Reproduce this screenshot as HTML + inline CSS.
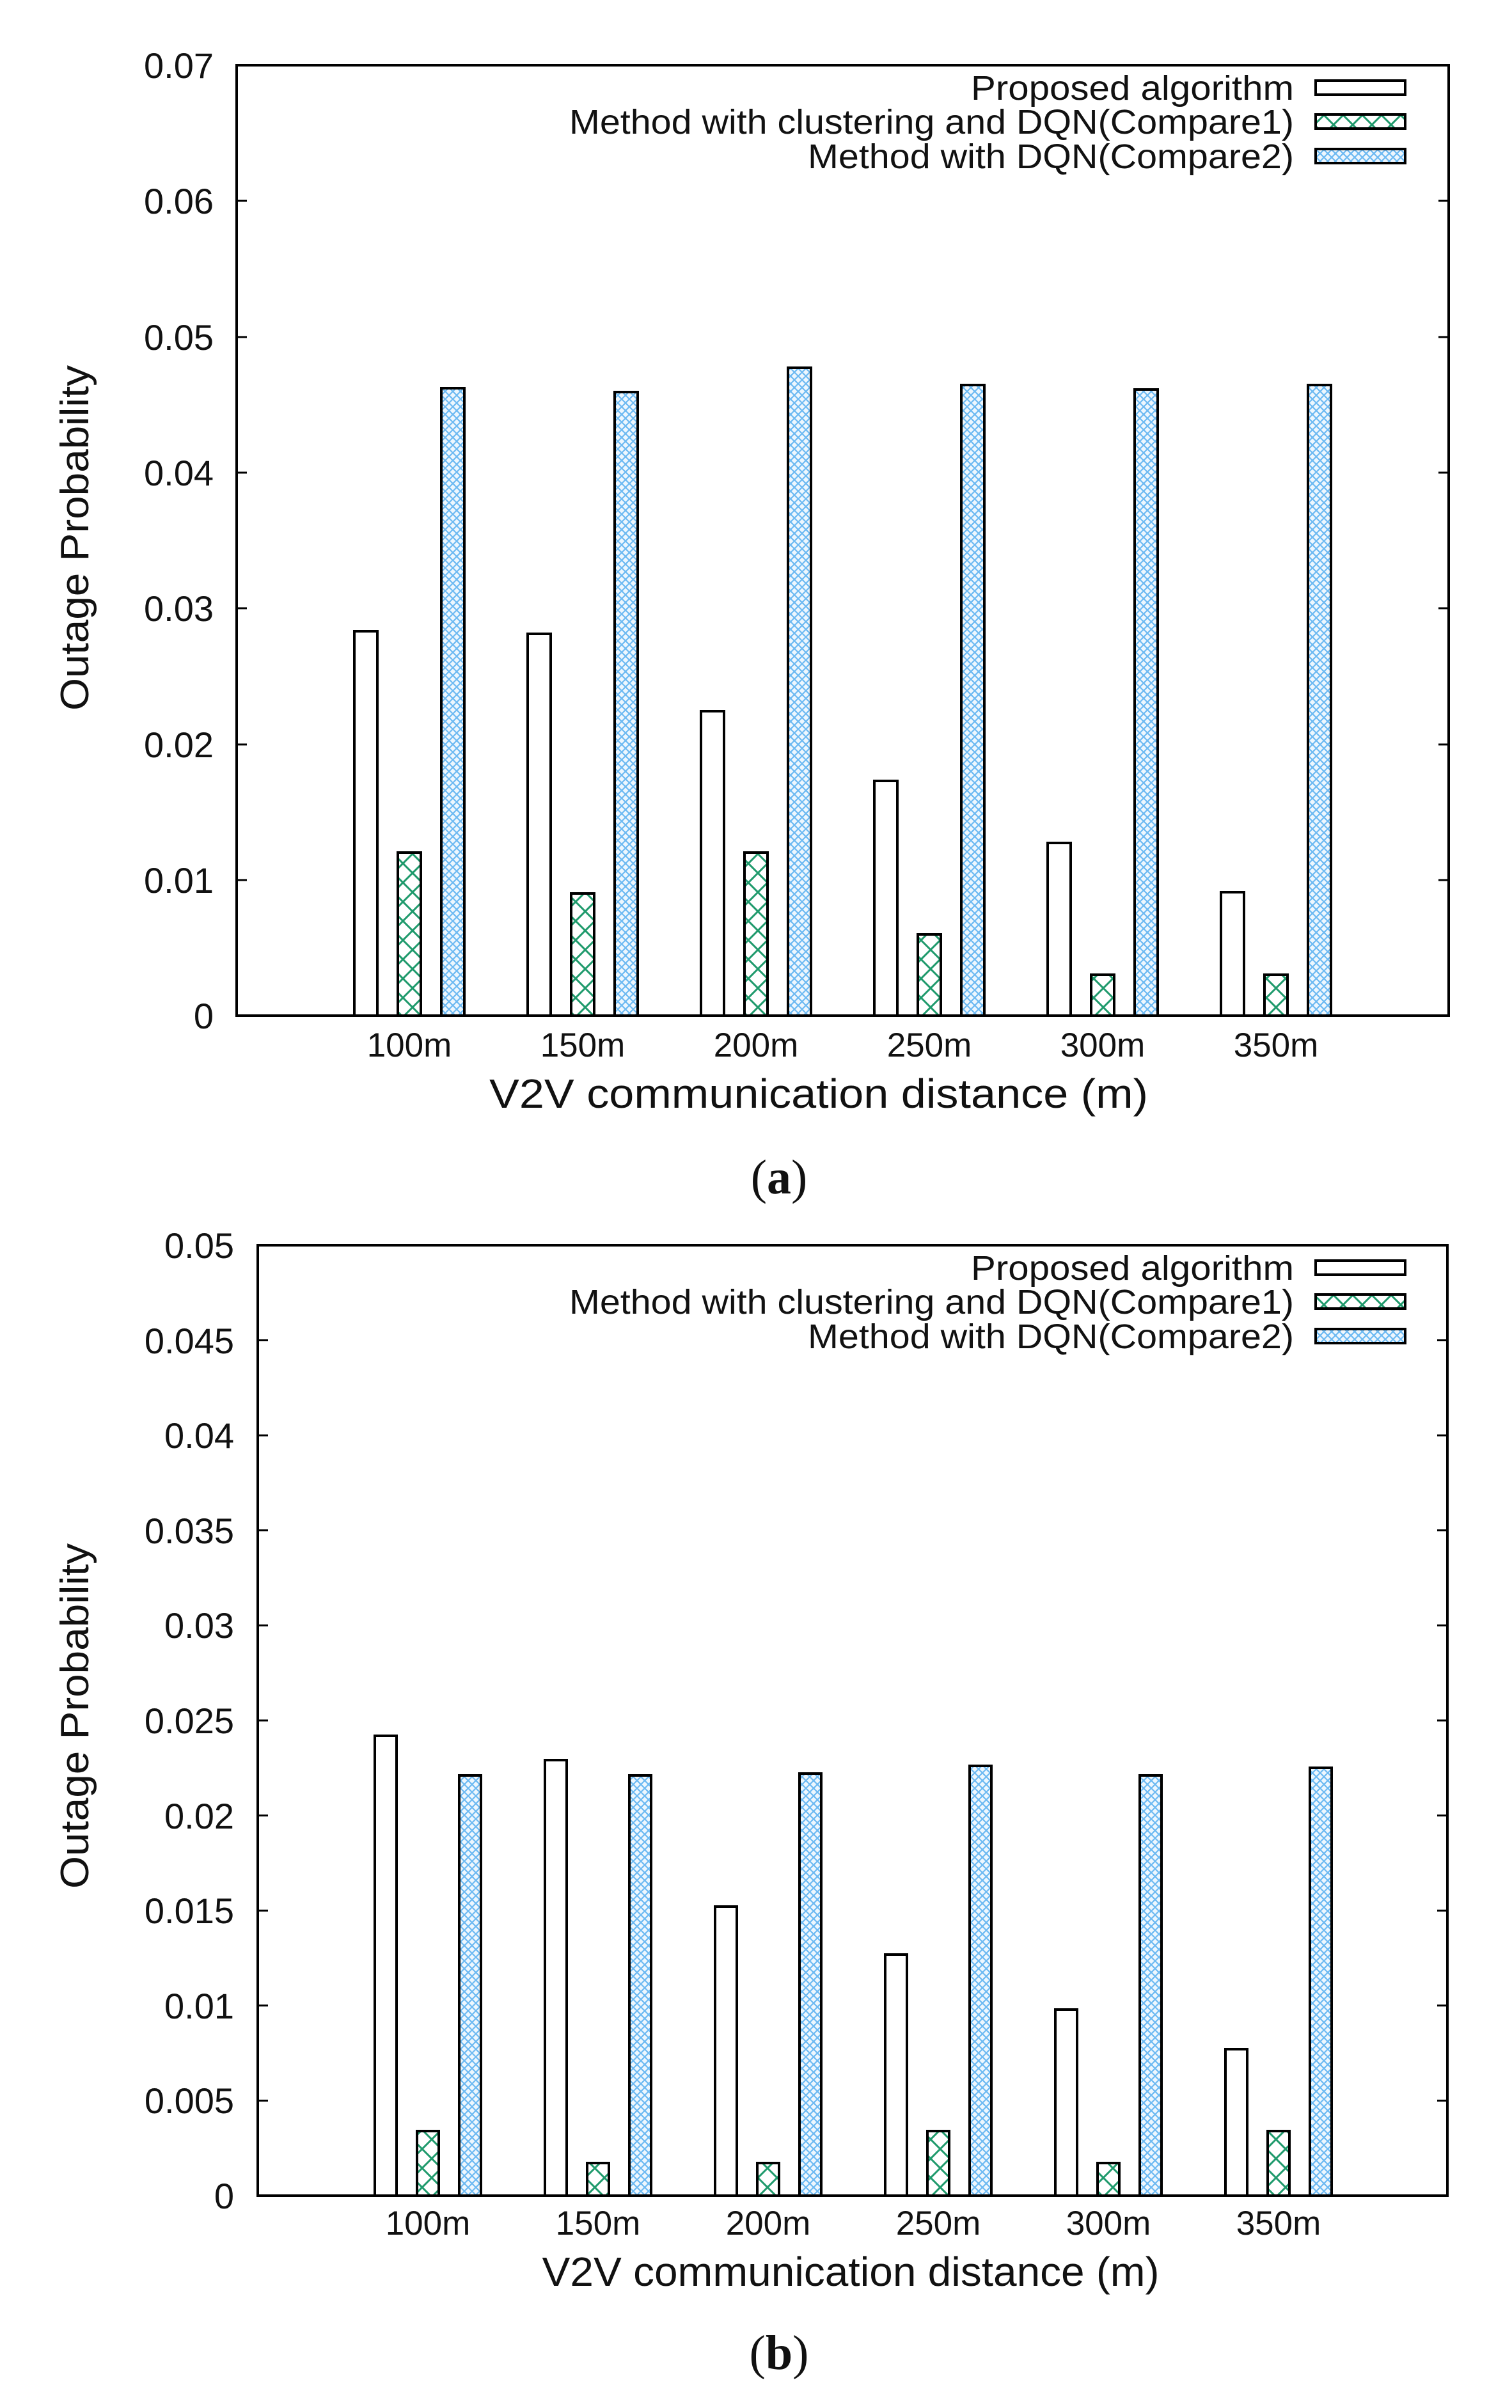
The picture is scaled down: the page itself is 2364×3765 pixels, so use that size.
<!DOCTYPE html>
<html><head><meta charset="utf-8"><style>
html,body{margin:0;padding:0;background:#fff;}
svg{display:block;}
text{font-family:"Liberation Sans",Arial,sans-serif;fill:#111;}
</style></head><body>
<svg width="2364" height="3765" viewBox="0 0 2364 3765" xmlns="http://www.w3.org/2000/svg">
<defs>
<pattern id="gh" width="30" height="30" patternUnits="userSpaceOnUse">
<rect width="30" height="30" fill="#fff"/>
<path d="M0,0 L30,30 M30,0 L0,30" stroke="#1f9a6c" stroke-width="3"/>
</pattern>
<pattern id="bh" width="12" height="12" patternUnits="userSpaceOnUse">
<rect width="12" height="12" fill="#eef7fe"/>
<path d="M0,0 L12,12 M12,0 L0,12" stroke="#6cb9f2" stroke-width="2.2"/>
</pattern>
</defs>

<!-- ===== Chart A ===== -->
<g id="A">
<rect x="370" y="102" width="1895" height="1486" fill="none" stroke="#000" stroke-width="4"/>
<g stroke="#000" stroke-width="3">
<path d="M370,1376h16M2265,1376h-16M370,1164h16M2265,1164h-16M370,951h16M2265,951h-16M370,739h16M2265,739h-16M370,527h16M2265,527h-16M370,314h16M2265,314h-16"/>
</g>
<g font-size="56" text-anchor="end">
<text x="334" y="1608">0</text>
<text x="334" y="1396">0.01</text>
<text x="334" y="1184">0.02</text>
<text x="334" y="971">0.03</text>
<text x="334" y="759">0.04</text>
<text x="334" y="547">0.05</text>
<text x="334" y="334">0.06</text>
<text x="334" y="122">0.07</text>
</g>
<g stroke="#000" stroke-width="4">
<rect x="554" y="987" width="36" height="601" fill="#fff"/>
<rect x="622" y="1333" width="36" height="255" fill="url(#gh)"/>
<rect x="690" y="607" width="36" height="981" fill="url(#bh)"/>

<rect x="825" y="991" width="36" height="597" fill="#fff"/>
<rect x="893" y="1397" width="36" height="191" fill="url(#gh)"/>
<rect x="961" y="613" width="36" height="975" fill="url(#bh)"/>

<rect x="1096" y="1112" width="36" height="476" fill="#fff"/>
<rect x="1164" y="1333" width="36" height="255" fill="url(#gh)"/>
<rect x="1232" y="575" width="36" height="1013" fill="url(#bh)"/>

<rect x="1367" y="1221" width="36" height="367" fill="#fff"/>
<rect x="1435" y="1461" width="36" height="127" fill="url(#gh)"/>
<rect x="1503" y="602" width="36" height="986" fill="url(#bh)"/>

<rect x="1638" y="1318" width="36" height="270" fill="#fff"/>
<rect x="1706" y="1524" width="36" height="64" fill="url(#gh)"/>
<rect x="1774" y="609" width="36" height="979" fill="url(#bh)"/>

<rect x="1909" y="1395" width="36" height="193" fill="#fff"/>
<rect x="1977" y="1524" width="36" height="64" fill="url(#gh)"/>
<rect x="2045" y="602" width="36" height="986" fill="url(#bh)"/>
</g>
<g font-size="53" text-anchor="middle">
<text x="640" y="1652">100m</text>
<text x="911" y="1652">150m</text>
<text x="1182" y="1652">200m</text>
<text x="1453" y="1652">250m</text>
<text x="1724" y="1652">300m</text>
<text x="1995" y="1652">350m</text>
</g>
<text x="1280" y="1732" font-size="64" text-anchor="middle" textLength="1030" lengthAdjust="spacingAndGlyphs">V2V communication distance (m)</text>
<text transform="translate(138,841) rotate(-90)" font-size="62" text-anchor="middle" textLength="540" lengthAdjust="spacingAndGlyphs">Outage Probability</text>
<g font-size="54" text-anchor="end">
<text x="2023" y="156" textLength="505" lengthAdjust="spacingAndGlyphs">Proposed algorithm</text>
<text x="2023" y="209" textLength="1133" lengthAdjust="spacingAndGlyphs">Method with clustering and DQN(Compare1)</text>
<text x="2023" y="263" textLength="760" lengthAdjust="spacingAndGlyphs">Method with DQN(Compare2)</text>
</g>
<g stroke="#000" stroke-width="4">
<rect x="2057" y="126" width="140" height="22" fill="#fff"/>
<rect x="2057" y="179" width="140" height="22" fill="url(#gh)"/>
<rect x="2057" y="233" width="140" height="22" fill="url(#bh)"/>
</g>
</g>
<text x="1218" y="1866" font-size="76" text-anchor="middle" style="font-family:'Liberation Serif',serif">(<tspan font-weight="bold">a</tspan>)</text>

<!-- ===== Chart B ===== -->
<g id="B">
<rect x="403" y="1947" width="1860" height="1486" fill="none" stroke="#000" stroke-width="4"/>
<g stroke="#000" stroke-width="3">
<path d="M403,3284.4h16M2263,3284.4h-16M403,3135.8h16M2263,3135.8h-16M403,2987.2h16M2263,2987.2h-16M403,2838.6h16M2263,2838.6h-16M403,2690h16M2263,2690h-16M403,2541.4h16M2263,2541.4h-16M403,2392.8h16M2263,2392.8h-16M403,2244.2h16M2263,2244.2h-16M403,2095.6h16M2263,2095.6h-16"/>
</g>
<g font-size="56" text-anchor="end">
<text x="366" y="3453">0</text>
<text x="366" y="3304">0.005</text>
<text x="366" y="3156">0.01</text>
<text x="366" y="3007">0.015</text>
<text x="366" y="2859">0.02</text>
<text x="366" y="2710">0.025</text>
<text x="366" y="2561">0.03</text>
<text x="366" y="2413">0.035</text>
<text x="366" y="2264">0.04</text>
<text x="366" y="2116">0.045</text>
<text x="366" y="1967">0.05</text>
</g>
<g stroke="#000" stroke-width="4">
<rect x="586" y="2714" width="34" height="719" fill="#fff"/>
<rect x="652" y="3332" width="34" height="101" fill="url(#gh)"/>
<rect x="718" y="2776" width="34" height="657" fill="url(#bh)"/>

<rect x="852" y="2752" width="34" height="681" fill="#fff"/>
<rect x="918" y="3382" width="34" height="51" fill="url(#gh)"/>
<rect x="984" y="2776" width="34" height="657" fill="url(#bh)"/>

<rect x="1118" y="2981" width="34" height="452" fill="#fff"/>
<rect x="1184" y="3382" width="34" height="51" fill="url(#gh)"/>
<rect x="1250" y="2773" width="34" height="660" fill="url(#bh)"/>

<rect x="1384" y="3056" width="34" height="377" fill="#fff"/>
<rect x="1450" y="3332" width="34" height="101" fill="url(#gh)"/>
<rect x="1516" y="2761" width="34" height="672" fill="url(#bh)"/>

<rect x="1650" y="3142" width="34" height="291" fill="#fff"/>
<rect x="1716" y="3382" width="34" height="51" fill="url(#gh)"/>
<rect x="1782" y="2776" width="34" height="657" fill="url(#bh)"/>

<rect x="1916" y="3204" width="34" height="229" fill="#fff"/>
<rect x="1982" y="3332" width="34" height="101" fill="url(#gh)"/>
<rect x="2048" y="2764" width="34" height="669" fill="url(#bh)"/>
</g>
<g font-size="53" text-anchor="middle">
<text x="669" y="3494">100m</text>
<text x="935" y="3494">150m</text>
<text x="1201" y="3494">200m</text>
<text x="1467" y="3494">250m</text>
<text x="1733" y="3494">300m</text>
<text x="1999" y="3494">350m</text>
</g>
<text x="1330" y="3574" font-size="64" text-anchor="middle" textLength="965" lengthAdjust="spacingAndGlyphs">V2V communication distance (m)</text>
<text transform="translate(138,2683) rotate(-90)" font-size="62" text-anchor="middle" textLength="540" lengthAdjust="spacingAndGlyphs">Outage Probability</text>
<g font-size="54" text-anchor="end">
<text x="2023" y="2001" textLength="505" lengthAdjust="spacingAndGlyphs">Proposed algorithm</text>
<text x="2023" y="2054" textLength="1133" lengthAdjust="spacingAndGlyphs">Method with clustering and DQN(Compare1)</text>
<text x="2023" y="2108" textLength="760" lengthAdjust="spacingAndGlyphs">Method with DQN(Compare2)</text>
</g>
<g stroke="#000" stroke-width="4">
<rect x="2057" y="1971" width="140" height="22" fill="#fff"/>
<rect x="2057" y="2024" width="140" height="22" fill="url(#gh)"/>
<rect x="2057" y="2078" width="140" height="22" fill="url(#bh)"/>
</g>
</g>
<text x="1218" y="3704" font-size="76" text-anchor="middle" style="font-family:'Liberation Serif',serif">(<tspan font-weight="bold">b</tspan>)</text>
</svg>
</body></html>
